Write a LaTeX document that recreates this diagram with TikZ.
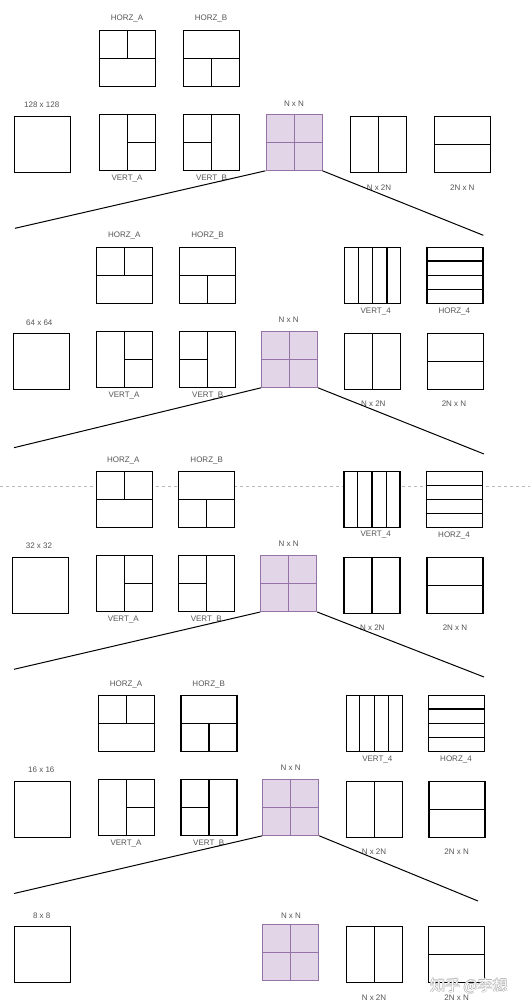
\documentclass[tikz,border=0pt]{standalone}
\usepackage{fontspec}
\setmainfont{Liberation Sans}
\newfontfamily\cjkfont{Noto Sans CJK SC}
\usetikzlibrary{calc}
\definecolor{pfill}{HTML}{E1D5E7}
\definecolor{pdraw}{HTML}{9673A6}
\definecolor{lblgray}{HTML}{555555}
\tikzset{
  blk/.style={draw=black, line width=1.1pt, fill=white, minimum size=56pt, inner sep=0pt, rectangle},
  pur/.style={draw=pdraw, line width=1pt, fill=pfill, minimum size=56pt, inner sep=0pt, rectangle},
  divline/.style={draw=black, line width=1.1pt},
  pdivline/.style={draw=pdraw, line width=1pt},
  lbl/.style={font=\fontsize{8}{9}\selectfont, text=lblgray, inner sep=0pt},
  conn/.style={draw=black, line width=1pt},
  wm/.style={font=\cjkfont\fontsize{15}{16}\selectfont, inner sep=0pt},
}
% divider helpers
\newcommand\dHorzA[1]{%
  \draw[divline] (#1.west) -- (#1.east);
  \draw[divline] (#1.north) -- (#1.center);}
\newcommand\dHorzB[1]{%
  \draw[divline] (#1.west) -- (#1.east);
  \draw[divline] (#1.center) -- (#1.south);}
\newcommand\dVertA[1]{%
  \draw[divline] (#1.north) -- (#1.south);
  \draw[divline] (#1.center) -- (#1.east);}
\newcommand\dVertB[1]{%
  \draw[divline] (#1.north) -- (#1.south);
  \draw[divline] (#1.west) -- (#1.center);}
\newcommand\dNxTwoN[1]{%
  \draw[divline] (#1.north) -- (#1.south);}
\newcommand\dTwoNxN[1]{%
  \draw[divline] (#1.west) -- (#1.east);}
\newcommand\dNxN[1]{%
  \draw[pdivline] (#1.north) -- (#1.south);
  \draw[pdivline] (#1.west) -- (#1.east);}
\newcommand\dVertFour[1]{%
  \foreach \f in {0.25,0.5,0.75}{\draw[divline] ($(#1.north west)!\f!(#1.north east)$) -- ($(#1.south west)!\f!(#1.south east)$);}}
\newcommand\dHorzFour[1]{%
  \foreach \f in {0.25,0.5,0.75}{\draw[divline] ($(#1.north west)!\f!(#1.south west)$) -- ($(#1.north east)!\f!(#1.south east)$);}}
\begin{document}
\begin{tikzpicture}[x=1pt,y=-1pt]
\useasboundingbox (0,0) rectangle (530,1008);
\fill[white] (0,0) rectangle (530,1008);

% dashed separator (behind boxes)
\coordinate (dl) at (0,486);
\coordinate (dr) at (530,486);
\draw[gray!55, line width=0.7pt, dash pattern=on 3pt off 3pt] (dl) -- (dr);

% ================= Section 1 =================
\node[blk] (a1) at (127.3,58.3) {}; \dHorzA{a1}
\node[blk] (b1) at (211.5,58.3) {}; \dHorzB{b1}
\node[blk] (s1) at (42.3,144.3) {};
\node[blk] (va1) at (127.3,142.3) {}; \dVertA{va1}
\node[blk] (vb1) at (211.5,142.3) {}; \dVertB{vb1}
\node[pur] (n1) at (294,142.3) {}; \dNxN{n1}
\node[blk] (p1) at (378.5,144.3) {}; \dNxTwoN{p1}
\node[blk] (q1) at (462.5,144.3) {}; \dTwoNxN{q1}
\node[lbl] (la1) at (127,19) {HORZ\_A};
\node[lbl] (lb1) at (211,19) {HORZ\_B};
\node[lbl] (ls1) at (41.7,105) {128 x 128};
\node[lbl] (lva1) at (127,178.3) {VERT\_A};
\node[lbl] (lvb1) at (211.5,178.3) {VERT\_B};
\node[lbl] (ln1) at (294,103.3) {N x N};
\node[lbl] (lp1) at (379,187.3) {N x 2N};
\node[lbl] (lq1) at (462.3,187.3) {2N x N};
\coordinate (l1) at (15,228.3);
\coordinate (r1) at (483.3,235.3);
\draw[conn] (n1.south west) -- (l1);
\draw[conn] (n1.south east) -- (r1);

% ================= Section 2 =================
\node[blk] (a2) at (124.8,275.3) {}; \dHorzA{a2}
\node[blk] (b2) at (207.7,275.3) {}; \dHorzB{b2}
\node[blk] (v42) at (372.7,275.3) {}; \dVertFour{v42}
\node[blk] (h42) at (455,275.3) {}; \dHorzFour{h42}
\node[blk] (s2) at (41.3,361.5) {};
\node[blk] (va2) at (124.8,359.3) {}; \dVertA{va2}
\node[blk] (vb2) at (207.7,359.3) {}; \dVertB{vb2}
\node[pur] (n2) at (289.5,359.3) {}; \dNxN{n2}
\node[blk] (p2) at (372.7,361.5) {}; \dNxTwoN{p2}
\node[blk] (q2) at (455.3,361.5) {}; \dTwoNxN{q2}
\node[lbl] (la2) at (124.3,236) {HORZ\_A};
\node[lbl] (lb2) at (207.5,236) {HORZ\_B};
\node[lbl] (lv42) at (375.7,311.3) {VERT\_4};
\node[lbl] (lh42) at (454.3,311.3) {HORZ\_4};
\node[lbl] (ls2) at (39.3,322.3) {64 x 64};
\node[lbl] (lva2) at (124,395.3) {VERT\_A};
\node[lbl] (lvb2) at (207.7,395.3) {VERT\_B};
\node[lbl] (ln2) at (288.7,320) {N x N};
\node[lbl] (lp2) at (373.3,404) {N x 2N};
\node[lbl] (lq2) at (454,404) {2N x N};
\coordinate (l2) at (14,447.7);
\coordinate (r2) at (484,454);
\draw[conn] (n2.south west) -- (l2);
\draw[conn] (n2.south east) -- (r2);

% ================= Section 3 =================
\node[blk] (a3) at (124.3,499.5) {}; \dHorzA{a3}
\node[blk] (b3) at (206.8,499.5) {}; \dHorzB{b3}
\node[blk] (v43) at (372,499.5) {}; \dVertFour{v43}
\node[blk] (h43) at (454.3,499.5) {}; \dHorzFour{h43}
\node[blk] (s3) at (40.8,585.3) {};
\node[blk] (va3) at (124.3,583.5) {}; \dVertA{va3}
\node[blk] (vb3) at (206.8,583.5) {}; \dVertB{vb3}
\node[pur] (n3) at (288.7,583.5) {}; \dNxN{n3}
\node[blk] (p3) at (372,585.3) {}; \dNxTwoN{p3}
\node[blk] (q3) at (455,585.3) {}; \dTwoNxN{q3}
\node[lbl] (la3) at (123.3,460) {HORZ\_A};
\node[lbl] (lb3) at (206.7,460) {HORZ\_B};
\node[lbl] (lv43) at (375.7,535) {VERT\_4};
\node[lbl] (lh43) at (454,535) {HORZ\_4};
\node[lbl] (ls3) at (39,546) {32 x 32};
\node[lbl] (lva3) at (123.3,619.3) {VERT\_A};
\node[lbl] (lvb3) at (206.3,619.3) {VERT\_B};
\node[lbl] (ln3) at (288.7,544) {N x N};
\node[lbl] (lp3) at (372.3,628) {N x 2N};
\node[lbl] (lq3) at (455,628) {2N x N};
\coordinate (l3) at (14,669.3);
\coordinate (r3) at (484,677);
\draw[conn] (n3.south west) -- (l3);
\draw[conn] (n3.south east) -- (r3);

% ================= Section 4 =================
\node[blk] (a4) at (126.3,723.3) {}; \dHorzA{a4}
\node[blk] (b4) at (209,723.3) {}; \dHorzB{b4}
\node[blk] (v44) at (374.2,723.3) {}; \dVertFour{v44}
\node[blk] (h44) at (456.3,723.3) {}; \dHorzFour{h44}
\node[blk] (s4) at (42.7,809.5) {};
\node[blk] (va4) at (126.3,807.3) {}; \dVertA{va4}
\node[blk] (vb4) at (209,807.3) {}; \dVertB{vb4}
\node[pur] (n4) at (290.7,807.3) {}; \dNxN{n4}
\node[blk] (p4) at (374.2,809.5) {}; \dNxTwoN{p4}
\node[blk] (q4) at (457,809.5) {}; \dTwoNxN{q4}
\node[lbl] (la4) at (126,684) {HORZ\_A};
\node[lbl] (lb4) at (208.7,684) {HORZ\_B};
\node[lbl] (lv44) at (377.3,759.3) {VERT\_4};
\node[lbl] (lh44) at (456,759.3) {HORZ\_4};
\node[lbl] (ls4) at (41.3,770) {16 x 16};
\node[lbl] (lva4) at (126,843.3) {VERT\_A};
\node[lbl] (lvb4) at (208.7,843.3) {VERT\_B};
\node[lbl] (ln4) at (290.7,768) {N x N};
\node[lbl] (lp4) at (374,852) {N x 2N};
\node[lbl] (lq4) at (456.7,852) {2N x N};
\coordinate (l4) at (14,893.5);
\coordinate (r4) at (478,901);
\draw[conn] (n4.south west) -- (l4);
\draw[conn] (n4.south east) -- (r4);

% ================= Section 5 =================
\node[blk] (s5) at (42.7,954.3) {};
\node[pur] (n5) at (290.7,952.3) {}; \dNxN{n5}
\node[blk] (p5) at (374.2,954.3) {}; \dNxTwoN{p5}
\node[blk] (q5) at (456.8,954.3) {}; \dTwoNxN{q5}
\node[lbl] (ls5) at (41.7,915.3) {8 x 8};
\node[lbl] (ln5) at (291,915.7) {N x N};
\node[lbl] (lp5) at (374,997.7) {N x 2N};
\node[lbl] (lq5) at (456.7,997.7) {2N x N};

% watermark (outlined look)
\foreach \dx/\dy in {-0.6/0,0.6/0,0/-0.6,0/0.6}{
  \node[wm, text=gray!60] at (469+\dx,986+\dy) {知乎 @李想};}
\node[wm, text=white] (wmk) at (469,986) {知乎 @李想};
\end{tikzpicture}
\end{document}
